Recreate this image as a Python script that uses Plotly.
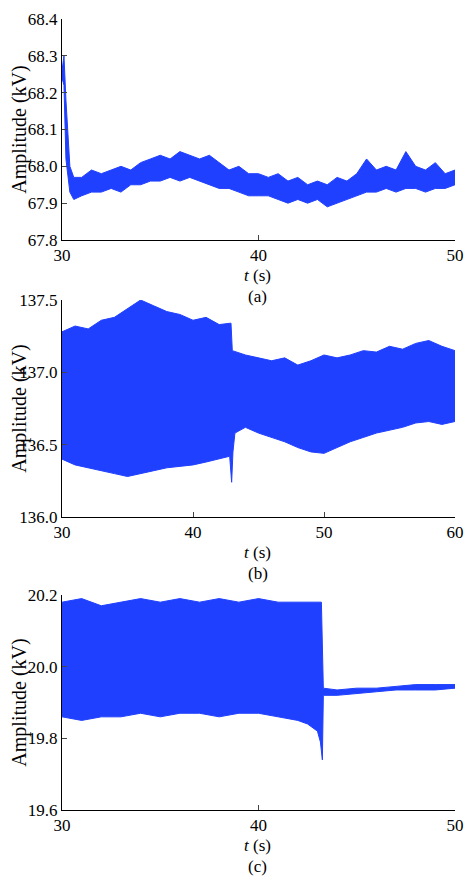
import plotly.graph_objects as go
from plotly.subplots import make_subplots

# Panel (a) envelopes
a_t = [30, 30.1, 30.2, 30.4, 30.6, 31, 31.5, 32, 32.5, 33, 33.5, 34, 34.5, 35, 35.5, 36, 36.5, 37, 37.5, 38, 38.5, 39, 39.5, 40,
       40.5, 41, 41.5, 42, 42.5, 43, 43.5, 44, 44.5, 45, 45.5, 46, 46.5, 47, 47.5, 48, 48.5, 49, 49.5, 50]
a_up = [68.26, 68.30, 68.18, 68.00, 67.97, 67.97, 67.99, 67.98, 67.99, 68.00, 67.99, 68.01, 68.02, 68.03, 68.02, 68.04, 68.03, 68.02, 68.03, 68.01, 67.99, 68.00, 67.98, 67.98,
        67.97, 67.98, 67.96, 67.97, 67.95, 67.96, 67.95, 67.97, 67.96, 67.98, 68.02, 67.99, 68.00, 67.99, 68.04, 68.00, 67.99, 68.01, 67.98, 67.99]
a_lo = [68.24, 68.22, 68.02, 67.93, 67.91, 67.92, 67.93, 67.93, 67.94, 67.93, 67.95, 67.95, 67.96, 67.96, 67.97, 67.96, 67.97, 67.96, 67.95, 67.94, 67.94, 67.93, 67.92, 67.92,
        67.92, 67.91, 67.90, 67.91, 67.90, 67.91, 67.89, 67.90, 67.91, 67.92, 67.93, 67.93, 67.94, 67.93, 67.94, 67.94, 67.93, 67.94, 67.94, 67.95]

# Panel (b) envelopes
b_t_up = [30, 31, 32, 33, 34, 35, 36, 37, 38, 39, 40, 41, 42, 42.9, 43.0, 44, 45, 46, 47, 48, 49, 50, 51, 52, 53, 54, 55, 56, 57, 58, 59, 60]
b_up = [137.28, 137.32, 137.30, 137.36, 137.38, 137.44, 137.50, 137.46, 137.42, 137.40, 137.36, 137.38, 137.33, 137.34, 137.15, 137.12, 137.10, 137.08, 137.10, 137.05, 137.08, 137.12, 137.10, 137.12, 137.15, 137.14, 137.18, 137.16, 137.20, 137.22, 137.18, 137.15]
b_t_lo = [30, 31, 32, 33, 34, 35, 36, 37, 38, 39, 40, 41, 42, 42.8, 42.95, 43.05, 43.2, 44, 45, 46, 47, 48, 49, 50, 51, 52, 53, 54, 55, 56, 57, 58, 59, 60]
b_lo = [136.40, 136.36, 136.34, 136.32, 136.30, 136.28, 136.30, 136.32, 136.34, 136.35, 136.36, 136.38, 136.40, 136.42, 136.24, 136.45, 136.58, 136.62, 136.58, 136.55, 136.52, 136.48, 136.45, 136.44, 136.48, 136.52, 136.55, 136.58, 136.60, 136.62, 136.65, 136.66, 136.64, 136.66]

# Panel (c) envelopes
c_t_up = [30, 31, 32, 33, 34, 35, 36, 37, 38, 39, 40, 41, 42, 43.0, 43.2, 43.3, 44, 45, 46, 47, 48, 49, 50]
c_up = [20.18, 20.19, 20.17, 20.18, 20.19, 20.18, 20.19, 20.18, 20.19, 20.18, 20.19, 20.18, 20.18, 20.18, 20.18, 19.94, 19.935, 19.94, 19.94, 19.945, 19.95, 19.95, 19.95]
c_t_lo = [30, 31, 32, 33, 34, 35, 36, 37, 38, 39, 40, 41, 42, 42.5, 43.0, 43.15, 43.25, 43.3, 44, 45, 46, 47, 48, 49, 50]
c_lo = [19.86, 19.85, 19.86, 19.86, 19.87, 19.86, 19.87, 19.87, 19.86, 19.87, 19.87, 19.86, 19.85, 19.84, 19.82, 19.79, 19.74, 19.92, 19.92, 19.925, 19.93, 19.935, 19.935, 19.935, 19.94]

BLUE = "#2040ff"
OFF = 8
TOP = 11
W, H = 474 - OFF, 880 - OFF
fig = make_subplots(rows=3, cols=1)

def py(pix):
    return min(1.0, max(0.0, 1 - (pix - OFF - TOP) / (H - TOP)))

def px(pix):
    return (pix - OFF) / W

panels = [
    (a_t, a_up, a_t, a_lo, [30, 50], [67.8, 68.4], [67.8, 67.9, 68.0, 68.1, 68.2, 68.3, 68.4], ["67.8", "67.9", "68.0", "68.1", "68.2", "68.3", "68.4"], [30, 40, 50], (15, 240), "(a)"),
    (b_t_up, b_up, b_t_lo, b_lo, [30, 60], [136.0, 137.5], [136.0, 136.5, 137.0, 137.5], ["136.0", "136.5", "137.0", "137.5"], [30, 40, 50, 60], (300, 517), "(b)"),
    (c_t_up, c_up, c_t_lo, c_lo, [30, 50], [19.6, 20.2], [19.6, 19.8, 20.0, 20.2], ["19.6", "19.8", "20.0", "20.2"], [30, 40, 50], (595, 810), "(c)"),
]
for i, (tu, u, tl, l, xr, yr, yt, ytl, xt, (top, bot), lab) in enumerate(panels, start=1):
    fig.add_trace(go.Scatter(x=tu + tl[::-1], y=u + l[::-1], fill="toself", fillcolor=BLUE,
                             mode="lines", line=dict(color=BLUE, width=1), showlegend=False), row=i, col=1)
    fig.update_xaxes(domain=[px(62), px(455)], range=xr, tickvals=xt, ticks="inside", ticklen=5, showline=True,
                     linecolor="black", showgrid=False, zeroline=False, automargin=False, row=i, col=1)
    fig.update_yaxes(domain=[py(bot), py(top)], range=yr, tickvals=yt, ticktext=ytl, ticks="inside", ticklen=5,
                     showline=True, linecolor="black", showgrid=False, zeroline=False, automargin=False,
                     title=dict(text="Amplitude (kV)", standoff=4), row=i, col=1)
    fig.add_annotation(text="<i>t</i> (s)", x=px(258), y=py(bot + 35), xref="paper", yref="paper",
                       yanchor="middle", showarrow=False, font=dict(size=17))
    fig.add_annotation(text=lab, x=px(258), y=py(bot + 56), xref="paper", yref="paper",
                       yanchor="middle", showarrow=False, font=dict(size=17))

fig.update_layout(width=W, height=H, plot_bgcolor="white", paper_bgcolor="white",
                  font=dict(family="Liberation Serif", size=17, color="black"),
                  margin=dict(l=0, r=0, t=TOP, b=0))
fig.write_html("out.html")
